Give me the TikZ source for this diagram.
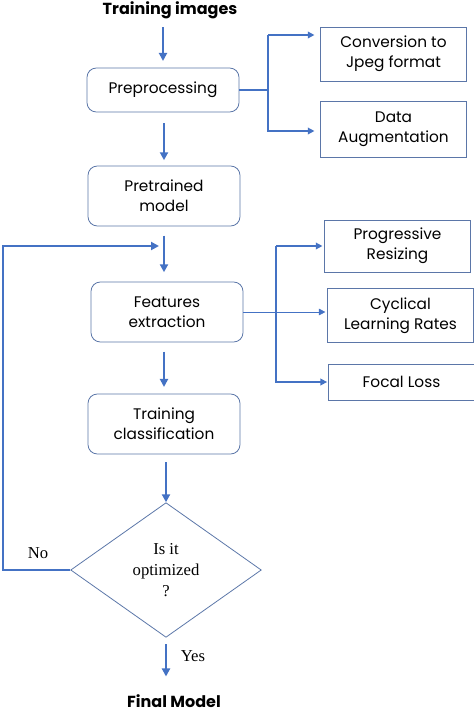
\documentclass[tikz,border=0pt]{standalone}
\usepackage{fontspec}
\setsansfont{Poppins}
\setmainfont{Liberation Serif}
\usetikzlibrary{arrows.meta,shapes.geometric,calc}
\definecolor{arrowblue}{HTML}{4472C4}
\definecolor{boxblue}{HTML}{5B76A8}

\begin{document}
\begin{tikzpicture}[x=0.75pt,y=-0.75pt,
  stage/.style={rectangle,rounded corners=7pt,draw=boxblue,line width=0.6pt,minimum width=114pt,align=center,font=\sffamily\fontsize{11.5}{15}\selectfont},
  option/.style={rectangle,draw=boxblue,line width=0.6pt,align=center,font=\sffamily\fontsize{11.5}{15}\selectfont},
  decision/.style={diamond,draw=boxblue,line width=0.6pt,inner sep=0pt,minimum width=143pt,minimum height=101pt,align=center,font=\rmfamily\fontsize{12.5}{15.5}\selectfont},
  heading/.style={font=\sffamily\bfseries\fontsize{12}{14}\selectfont},
  note/.style={font=\rmfamily\fontsize{12.5}{14}\selectfont},
  flow/.style={draw=arrowblue,line width=1.5pt,-{Triangle[length=6pt,width=6pt]}},
  branch/.style={draw=arrowblue,line width=1.1pt},
  tip/.style={-{Triangle[length=5pt,width=5pt]}}]
\useasboundingbox (0,0) rectangle (474,711);

% main column
\node[heading] (train) at (170,10) {Training images};
\node[stage,minimum height=33pt] (pre) at (163,90) {Preprocessing};
\node[stage,minimum height=45pt] (ptm) at (164,196) {Pretrained\\model};
\node[stage,minimum height=45pt] (feat) at (167,312) {Features\\extraction};
\node[stage,minimum height=45pt] (tcls) at (164,424) {Training\\classification};
\node[decision] (opt) at (166,570) {Is it\\optimized\\?};
\node[heading] (final) at (174,701) {Final Model};

% side options
\node[option,minimum width=110pt,minimum height=40.5pt] (jpeg) at (393.5,54) {Conversion to\\Jpeg format};
\node[option,minimum width=110pt,minimum height=42pt] (aug) at (393.5,129) {Data\\Augmentation};
\node[option,minimum width=110pt,minimum height=39pt] (prog) at (397.5,246) {Progressive\\Resizing};
\node[option,minimum width=110pt,minimum height=40pt] (cyc) at (400.5,315.5) {Cyclical\\Learning Rates};
\node[option,minimum width=109pt,minimum height=27pt] (focal) at (401.5,382) {Focal Loss};

% main arrows
\draw[flow,shorten <=3pt,shorten >=5pt] (train.south -| pre) -- (pre.north);
\draw[flow,shorten <=8pt,shorten >=4pt] (pre.south -| ptm) -- (ptm.north);
\draw[flow,shorten <=7pt,shorten >=7pt] (ptm.south) -- (ptm.south |- feat.north);
\draw[flow,shorten <=7pt,shorten >=5pt] (feat.south -| tcls) -- (tcls.north);
\draw[flow,shorten <=6pt,shorten >=0pt] (tcls.south -| opt) -- (opt.north);
\draw[flow,shorten <=5pt,shorten >=10pt] (opt.south) -- (opt.south |- final.north);
\node[note] (yes) at (193,656) {Yes};

% loop back
\coordinate (notop) at (3,246);
\coordinate (noend) at (159,246);
\draw[flow] (opt.west) -- (opt.west -| notop) -- (notop) -- (noend);
\node[note] (no) at (38,553) {No};

% preprocessing branches
\coordinate (fork) at (268,90);
\coordinate (forktop) at (268,35);
\coordinate (forkbot) at (268,131);
\draw[branch] (pre.east) -- (fork);
\draw[branch,tip,shorten >=4pt] (forktop) -- (forkbot) -- (forkbot -| aug.west);
\draw[branch,tip,shorten >=4pt] (forktop) -- (forktop -| jpeg.west);

% feature extraction branches
\coordinate (splittop) at (276,246);
\coordinate (splitbot) at (276,382);
\draw[draw=arrowblue,line width=0.5pt,tip,shorten >=1pt] (feat.east) -- (feat.east -| cyc.west);
\draw[branch,tip,shorten >=1pt] (splittop) -- (splitbot) -- (focal.west);
\draw[branch,tip,shorten >=1pt] (splittop) -- (prog.west);
\end{tikzpicture}
\end{document}
